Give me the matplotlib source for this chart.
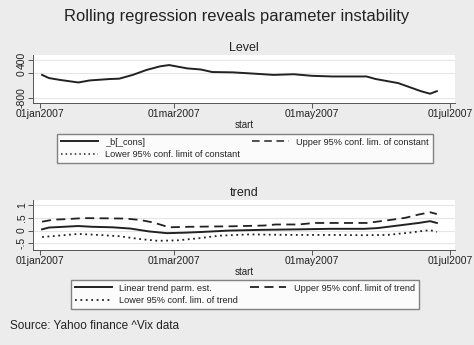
import matplotlib
matplotlib.use("Agg")
import matplotlib.pyplot as plt
import numpy as np

plt.rcParams['font.family'] = ['Liberation Sans', 'DejaVu Sans']

# Level panel (constant)
levelDates = ['2007-01-02', '2007-01-05', '2007-01-10', '2007-01-18', '2007-01-23',
              '2007-02-01', '2007-02-05', '2007-02-11', '2007-02-17', '2007-02-23',
              '2007-02-27', '2007-03-07', '2007-03-13', '2007-03-18', '2007-03-27',
              '2007-04-03', '2007-04-14', '2007-04-23', '2007-05-01', '2007-05-10',
              '2007-05-25', '2007-05-29', '2007-06-08', '2007-06-18', '2007-06-22',
              '2007-06-25']
levelVals = [-70, -170, -230, -310, -245, -200, -190, -70, 85, 200,
             240, 135, 100, 20, 10, -20, -70, -50, -100, -120,
             -120, -200, -330, -585, -665, -585]

# Trend panel
upperDates = ['2007-01-02', '2007-01-07', '2007-01-13', '2007-01-20', '2007-02-01',
              '2007-02-08', '2007-02-14', '2007-02-20', '2007-02-27', '2007-03-08',
              '2007-03-27', '2007-04-10', '2007-04-15', '2007-04-25', '2007-05-02',
              '2007-05-25', '2007-06-03', '2007-06-11', '2007-06-17', '2007-06-22',
              '2007-06-25']
upperVals = [0.35, 0.43, 0.45, 0.49, 0.48, 0.47, 0.42, 0.32, 0.13, 0.15,
             0.17, 0.20, 0.24, 0.24, 0.30, 0.30, 0.40, 0.50, 0.63, 0.72, 0.65]

trendDates = ['2007-01-02', '2007-01-05', '2007-01-18', '2007-01-24', '2007-02-02',
              '2007-02-10', '2007-02-18', '2007-02-26', '2007-03-06', '2007-03-14',
              '2007-03-25', '2007-04-09', '2007-04-25', '2007-05-09', '2007-05-24',
              '2007-05-30', '2007-06-08', '2007-06-17', '2007-06-22', '2007-06-25']
trendVals = [0.05, 0.12, 0.18, 0.15, 0.13, 0.08, -0.03, -0.10, -0.08, -0.05,
             0.0, 0.03, 0.05, 0.07, 0.07, 0.10, 0.20, 0.30, 0.37, 0.30]

lowerDates = ['2007-01-02', '2007-01-09', '2007-01-18', '2007-01-27', '2007-02-05',
              '2007-02-14', '2007-02-22', '2007-03-03', '2007-03-12', '2007-03-21',
              '2007-04-03', '2007-04-25', '2007-05-09', '2007-05-24', '2007-06-03',
              '2007-06-13', '2007-06-20', '2007-06-22', '2007-06-25']
lowerVals = [-0.25, -0.20, -0.13, -0.17, -0.22, -0.33, -0.40, -0.38, -0.30, -0.20,
             -0.15, -0.17, -0.17, -0.18, -0.17, -0.08, 0.0, 0.02, -0.05]

xTicks = ['2007-01-01', '2007-03-01', '2007-05-01', '2007-07-01']
xTickLabels = ['01jan2007', '01mar2007', '01may2007', '01jul2007']

W, H = 474, 345
bg = '#ececec'
ink = '#222222'

def todates(d):
    return np.array(d, dtype='datetime64[D]')

fig = plt.figure(figsize=(W / 100, H / 100), dpi=100, facecolor=bg)

def rect(x0, y0, x1, y1):
    return [x0 / W, 1 - y1 / H, (x1 - x0) / W, (y1 - y0) / H]

def style(ax, yticks, ylabels, ylim):
    ax.set_facecolor('white')
    ax.set_xlim(todates('2007-01-01') - np.timedelta64(3, 'D'),
                todates('2007-07-01') + np.timedelta64(2, 'D'))
    ax.set_ylim(ylim)
    ax.set_xticks(todates(xTicks))
    ax.set_xticklabels(xTickLabels, fontsize=7.5, color=ink)
    ax.set_yticks(yticks)
    ax.set_yticklabels(ylabels, fontsize=7.5, color=ink, rotation=90, va='center')
    ax.tick_params(length=3.5, width=0.7, color='#555555', pad=1)
    for s in ['top', 'right']:
        ax.spines[s].set_visible(False)
    for s in ['left', 'bottom']:
        ax.spines[s].set_color('#555555')
        ax.spines[s].set_linewidth(0.7)
    ax.grid(axis='y', color='#e6e6e6', linewidth=0.8)
    ax.set_axisbelow(True)
    ax.set_xlabel('start', fontsize=7, color=ink, labelpad=0.5)

legendKw = dict(ncol=2, loc='lower left', mode='expand', fontsize=6.6,
                frameon=True, fancybox=False, edgecolor='#666666',
                handlelength=4.0, handletextpad=0.8, borderpad=0.45,
                labelspacing=0.35, borderaxespad=0, labelcolor=ink)

# Level panel
ax1 = fig.add_axes(rect(33, 55, 455, 103))
h1, = ax1.plot(todates(levelDates), levelVals, color=ink, linewidth=1.4)
h2, = ax1.plot([], [], color=ink, linewidth=1.1, linestyle=(0, (5, 3)))
h3, = ax1.plot([], [], color=ink, linewidth=1.1, linestyle=(0, (1, 2)))
style(ax1, [400, 0, -800], ['400', '0', '-800'], (-958, 558))
ax1.set_title('Level', fontsize=9, color=ink, pad=3)
fig.legend([h1, h3, h2],
           ['_b[_cons]', 'Lower 95% conf. limit of constant', 'Upper 95% conf. lim. of constant'],
           bbox_to_anchor=(57 / W, 1 - 163 / H, 376 / W, 30 / H), **legendKw)

# Trend panel
ax2 = fig.add_axes(rect(33, 200, 455, 250))
t1, = ax2.plot(todates(trendDates), trendVals, color=ink, linewidth=1.4)
t2, = ax2.plot(todates(upperDates), upperVals, color=ink, linewidth=1.3, linestyle=(0, (5, 3)))
t3, = ax2.plot(todates(lowerDates), lowerVals, color=ink, linewidth=1.3, linestyle=(0, (1, 2)))
style(ax2, [1, 0.5, 0, -0.5], ['1', '.5', '0', '-.5'], (-0.76, 1.2))
ax2.set_title('trend', fontsize=9, color=ink, pad=3)
fig.legend([t1, t3, t2],
           ['Linear trend parm. est.', 'Lower 95% conf. lim. of trend', 'Upper 95% conf. limit of trend'],
           bbox_to_anchor=(71 / W, 1 - 309 / H, 348 / W, 30 / H), **legendKw)

fig.text(0.5, 1 - 17 / H, 'Rolling regression reveals parameter instability',
         ha='center', va='center', fontsize=11.9, color=ink)
fig.text(10 / W, 1 - 326 / H, 'Source: Yahoo finance ^Vix data',
         ha='left', va='center', fontsize=8.5, color=ink)

fig.savefig('out.png', dpi=100, facecolor=bg)
